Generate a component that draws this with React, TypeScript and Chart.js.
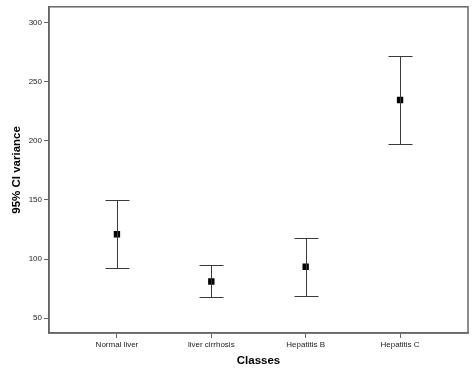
import React, { useEffect, useRef } from "react";
import { Chart, registerables } from "chart.js";

Chart.register(...registerables);

const categories = ["Normal liver", "liver cirrhosis", "Hepatitis B", "Hepatitis C"];
const means = [121, 81, 93.5, 234.5];
const lowers = [92.5, 67.5, 69, 197];
const uppers = [150, 95, 118, 271.5];
const yTicks = [50, 100, 150, 200, 250, 300];

const errorBarPlugin = {
  id: "errorBars",
  afterDatasetsDraw(chart: any) {
    const { ctx, scales } = chart;
    const xs = scales.x;
    const ys = scales.y;
    ctx.save();
    ctx.strokeStyle = "#3a3a3a";
    ctx.lineWidth = 1;
    const cap = 12;
    for (let i = 0; i < categories.length; i++) {
      const x = Math.round(xs.getPixelForValue(i)) + 0.5;
      const yl = Math.round(ys.getPixelForValue(lowers[i])) + 0.5;
      const yu = Math.round(ys.getPixelForValue(uppers[i])) + 0.5;
      ctx.beginPath();
      ctx.moveTo(x, yl);
      ctx.lineTo(x, yu);
      ctx.moveTo(x - cap, yl);
      ctx.lineTo(x + cap, yl);
      ctx.moveTo(x - cap, yu);
      ctx.lineTo(x + cap, yu);
      ctx.stroke();
    }
    ctx.restore();
  },
  afterDraw(chart: any) {
    const { ctx, chartArea } = chart;
    ctx.save();
    ctx.strokeStyle = "#666666";
    ctx.lineWidth = 1.5;
    ctx.strokeRect(chartArea.left, chartArea.top, chartArea.right - chartArea.left, chartArea.bottom - chartArea.top);
    ctx.restore();
  },
};

export default function App() {
  const ref = useRef<HTMLCanvasElement>(null);
  useEffect(() => {
    document.body.style.margin = "0";
    const canvas = ref.current!;
    const chart = new Chart(canvas, {
      type: "scatter",
      data: {
        datasets: [
          {
            data: means.map((m, i) => ({ x: i, y: m })),
            pointStyle: "rect",
            pointRadius: 4.5,
            backgroundColor: "#000000",
            borderColor: "#000000",
            borderWidth: 0,
          },
        ],
      },
      options: {
        animation: false,
        responsive: false,
        maintainAspectRatio: false,
        layout: { padding: { left: 0, top: 4, right: 6, bottom: 0 } },
        plugins: { legend: { display: false }, tooltip: { enabled: false } },
        scales: {
          x: {
            type: "linear",
            min: -0.72,
            max: 3.72,
            afterBuildTicks: (s: any) => {
              s.ticks = categories.map((_, i) => ({ value: i }));
            },
            afterFit: (s: any) => {
              s.height = 46;
            },
            ticks: {
              callback: (v: any) => categories[v as number],
              font: { family: "Liberation Sans, Arial", size: 8 },
              color: "#222222",
              padding: 2,
              maxRotation: 0,
              autoSkip: false,
            },
            grid: { drawOnChartArea: false, tickLength: 5, color: "#666666" },
            border: { color: "#666666", width: 1.5 },
            title: {
              display: true,
              text: "Classes",
              font: { family: "Liberation Sans, Arial", size: 11.5, weight: "bold" },
              color: "#000000",
              padding: { top: 4, bottom: 11 },
            },
          },
          y: {
            type: "linear",
            min: 37.4,
            max: 313.4,
            afterBuildTicks: (s: any) => {
              s.ticks = yTicks.map((v) => ({ value: v }));
            },
            afterFit: (s: any) => {
              s.width = 49;
            },
            ticks: {
              font: { family: "Liberation Sans, Arial", size: 8 },
              color: "#222222",
              padding: 2,
            },
            grid: { drawOnChartArea: false, tickLength: 5, color: "#666666" },
            border: { color: "#666666", width: 1.5 },
            title: {
              display: true,
              text: "95% CI variance",
              font: { family: "Liberation Sans, Arial", size: 11.5, weight: "bold" },
              color: "#000000",
              padding: { top: 10, bottom: 4 },
            },
          },
        },
      },
      plugins: [errorBarPlugin],
    });
    return () => chart.destroy();
  }, []);
  return <canvas ref={ref} width={474} height={379} style={{ display: "block" }} />;
}
